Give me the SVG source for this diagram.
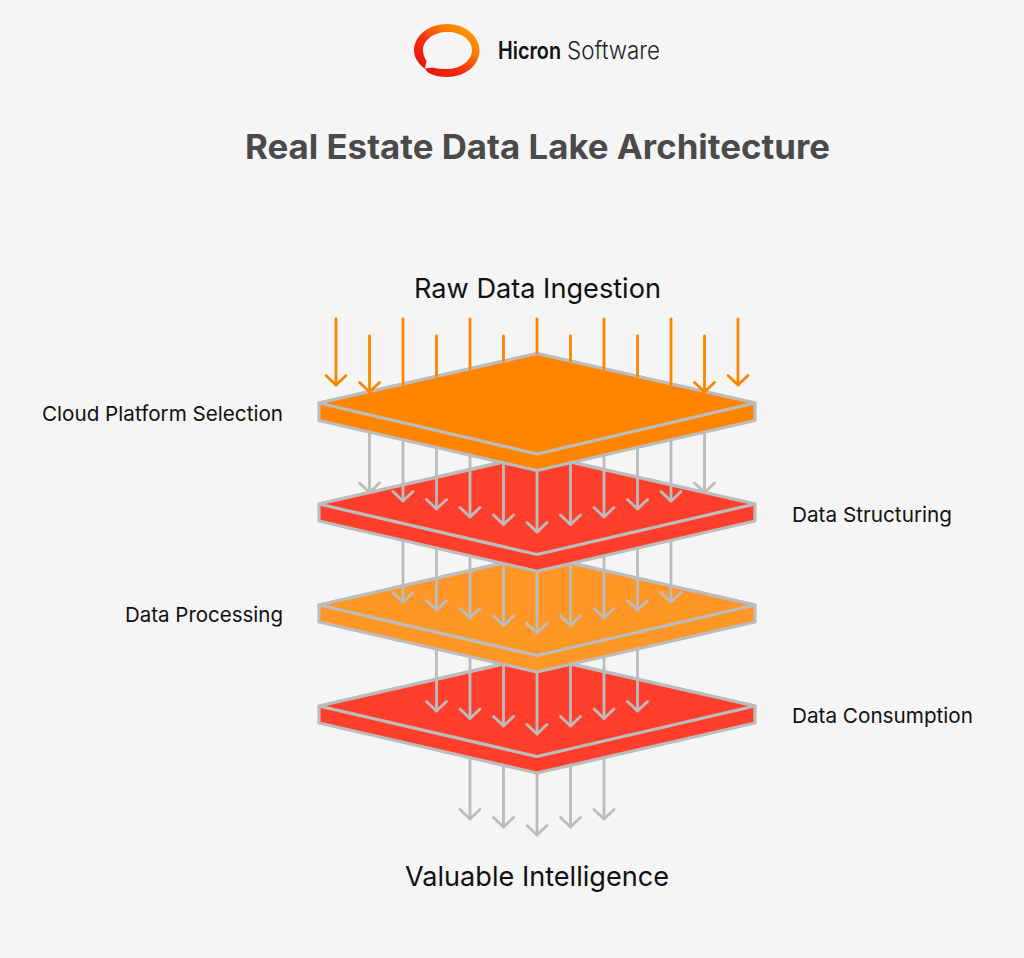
<svg xmlns="http://www.w3.org/2000/svg" width="1024" height="958" viewBox="0 0 1024 958">
<style>
text{font-family:"Inter","Noto Sans","Liberation Sans",sans-serif}
.title{font-size:33.500px;font-weight:700;fill:#4a4a4a}
.big{font-size:27.500px;font-weight:400;fill:#111}
.lab{font-size:20.500px;font-weight:400;fill:#111}
.plate polygon{stroke:#bcbcbc;stroke-width:3.200;stroke-linejoin:round}
.or{fill:#ff8500}.re{fill:#ff3f2c}.lo{fill:#ff9727}
#connectors path{fill:none;stroke-width:2.800;stroke-linecap:round}
.o{stroke:#ff8500}
.g{stroke:#bcbcbc}
.oh{marker-end:url(#mo)}
.g{marker-end:url(#mg)}
</style>
<defs>
<marker id="mo" markerUnits="userSpaceOnUse" viewBox="-13 -13 16 26" refX="0" refY="0" markerWidth="16" markerHeight="26" orient="auto"><path d="M-9.500-10L0 0L-9.500 10" fill="none" stroke="#ff8500" stroke-width="2.800" stroke-linecap="round" stroke-linejoin="round"/></marker>
<marker id="mg" markerUnits="userSpaceOnUse" viewBox="-13 -13 16 26" refX="0" refY="0" markerWidth="16" markerHeight="26" orient="auto"><path d="M-9.500-10L0 0L-9.500 10" fill="none" stroke="#bcbcbc" stroke-width="2.800" stroke-linecap="round" stroke-linejoin="round"/></marker>
<linearGradient id="lg" x1="0.150" y1="0.850" x2="0.850" y2="0.150"><stop offset="0" stop-color="#ea140f"/><stop offset="0.400" stop-color="#f3300e"/><stop offset="0.750" stop-color="#fb7a06"/><stop offset="1" stop-color="#ff9400"/></linearGradient>
</defs>
<rect width="1024" height="958" fill="#f5f5f5"/>
<g id="logo">
<path fill="url(#lg)" fill-rule="evenodd" d="M447 24C465 24 479.500 36 479.500 50.500C479.500 65.500 465 77 447 77C440 77 433 75.500 428 72.500C426.500 71 426 69.500 425 69C418.500 64 414 57.500 414 50.500C414 36 428.500 24 447 24ZM447.500 32C434 32 423 40 423 50C423 54 424.500 58 426.500 61L425 68.500L432.500 67.500C437 68.500 442 69 447.500 69C461 69 472 60 472 50C472 40 461 32 447.500 32Z"/>
<text x="498" y="59" font-size="24" font-weight="600" fill="#111" textLength="63" lengthAdjust="spacingAndGlyphs">Hicron</text>
<text x="567" y="59" font-size="24" font-weight="300" fill="#222" textLength="93" lengthAdjust="spacingAndGlyphs">Software</text>
</g>
<text id="title" class="title" x="245" y="159" textLength="585" lengthAdjust="spacingAndGlyphs">Real Estate Data Lake Architecture</text>
<g id="raw-data-ingestion"><text class="big" x="414" y="298" textLength="247" lengthAdjust="spacingAndGlyphs">Raw Data Ingestion</text></g>
<g id="valuable-intelligence"><text class="big" x="405" y="886" textLength="264" lengthAdjust="spacingAndGlyphs">Valuable Intelligence</text></g>
<g id="plate-consumption" class="plate">
<polygon class="re" points="319,706 319,723 537,773 755,723 755,706 537,656"/>
<polygon class="re" points="537,656.500 755,706 537,756.500 319,706"/>
<text class="lab" x="792" y="723" textLength="181" lengthAdjust="spacingAndGlyphs">Data Consumption</text>
</g>
<g id="plate-processing" class="plate">
<polygon class="lo" points="319,605 319,622 537,672 755,622 755,605 537,555"/>
<polygon class="lo" points="537,555.500 755,605 537,655.500 319,605"/>
<text class="lab" x="125" y="622" textLength="158" lengthAdjust="spacingAndGlyphs">Data Processing</text>
</g>
<g id="plate-structuring" class="plate">
<polygon class="re" points="319,504 319,521 537,571.300 755,521 755,504 537,454"/>
<polygon class="re" points="537,454.500 755,504 537,554.500 319,504"/>
<text class="lab" x="792" y="522" textLength="160" lengthAdjust="spacingAndGlyphs">Data Structuring</text>
</g>
<g id="plate-cloud" class="plate">
<polygon class="or" points="319,403 319,420.500 537,470.500 755,420.500 755,403 537,353.500"/>
<polygon class="or" points="537,353.500 755,403 537,454 319,403"/>
<text class="lab" x="42" y="421" textLength="241" lengthAdjust="spacingAndGlyphs">Cloud Platform Selection</text>
</g>
<g id="connectors">
<path class="o oh" d="M336 319V385"/>
<path class="o oh" d="M369.500 336V392"/>
<path class="o" d="M403 319V384"/>
<path class="o" d="M436.500 336V376"/>
<path class="o" d="M470 319V369"/>
<path class="o" d="M503.500 336V361"/>
<path class="o" d="M537 319V353"/>
<path class="o" d="M570.500 336V361"/>
<path class="o" d="M604 319V369"/>
<path class="o" d="M637.500 336V376"/>
<path class="o" d="M671 319V384"/>
<path class="o oh" d="M704.500 336V392"/>
<path class="o oh" d="M738 319V385"/>

<path class="g" d="M369.500 432V492.500"/>
<path class="g" d="M403 440V501"/>
<path class="g" d="M436.500 447.500V509"/>
<path class="g" d="M470 455V517"/>
<path class="g" d="M503.500 463V524.500"/>
<path class="g" d="M537 471V532"/>
<path class="g" d="M570.500 463V524.500"/>
<path class="g" d="M604 455V517"/>
<path class="g" d="M637.500 447.500V509"/>
<path class="g" d="M671 440V501"/>
<path class="g" d="M704.500 432V492.500"/>

<path class="g" d="M403 540.500V602"/>
<path class="g" d="M436.500 548V610"/>
<path class="g" d="M470 556V618"/>
<path class="g" d="M503.500 564V625.500"/>
<path class="g" d="M537 571.500V633"/>
<path class="g" d="M570.500 564V625.500"/>
<path class="g" d="M604 556V618"/>
<path class="g" d="M637.500 548V610"/>
<path class="g" d="M671 540.500V602"/>

<path class="g" d="M436.500 649V711"/>
<path class="g" d="M470 657V718.500"/>
<path class="g" d="M503.500 664.500V726"/>
<path class="g" d="M537 672.500V734"/>
<path class="g" d="M570.500 664.500V726"/>
<path class="g" d="M604 657V718.500"/>
<path class="g" d="M637.500 649V711"/>

<path class="g" d="M470 757.500V819"/>
<path class="g" d="M503.500 765V827"/>
<path class="g" d="M537 773V835"/>
<path class="g" d="M570.500 765V827"/>
<path class="g" d="M604 757.500V819"/>
</g>
</svg>
